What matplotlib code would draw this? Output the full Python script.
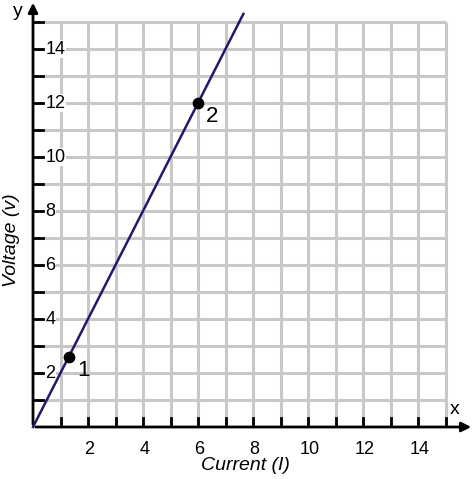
import matplotlib
matplotlib.use("Agg")
import matplotlib.pyplot as plt
import numpy as np

plt.rcParams["font.family"] = ["Liberation Sans", "DejaVu Sans"]

# data
points_x = [1.3, 6]
points_y = [2.6, 12]
point_labels = ["1", "2"]
line_x = [0, 7.65]
line_y = [0, 15.3]
tick_vals = [2, 4, 6, 8, 10, 12, 14]

W, H = 474, 479
fig = plt.figure(figsize=(W / 100, H / 100), dpi=100)
ax = fig.add_axes([33 / W, 52 / H, (W - 33) / W, (H - 52) / H])
ax.set_xlim(0, 441 / 27.5)
ax.set_ylim(0, 427 / 27.0)
ax.axis("off")

grid = np.arange(1, 16)
ax.vlines(grid, 0, 15, color="#c8c8c8", lw=2.2, zorder=1)
ax.hlines(grid, 0, 15, color="#c8c8c8", lw=2.2, zorder=1)

# axes with arrows
ax.annotate("", xy=(441 / 27.5, 0), xytext=(0, 0),
            arrowprops=dict(arrowstyle="-|>", color="black", lw=2, mutation_scale=14), zorder=3)
ax.annotate("", xy=(0, 427 / 27.0), xytext=(0, 0),
            arrowprops=dict(arrowstyle="-|>", color="black", lw=2, mutation_scale=14), zorder=3)

# ticks
for v in grid:
    ax.plot([v, v], [0, 0.35], color="black", lw=2, zorder=3)
    ax.plot([0, 0.35], [v, v], color="black", lw=2, zorder=3)
for v in tick_vals:
    ax.text(v + 0.05, -0.5, str(v), ha="center", va="top", fontsize=13,
            bbox=dict(facecolor="white", edgecolor="none", pad=0.5), zorder=2)
    ax.text(0.45, v, str(v), ha="left", va="center", fontsize=13,
            bbox=dict(facecolor="white", edgecolor="none", pad=0.5), zorder=2)

ax.plot(line_x, line_y, color="#1f1a6e", lw=1.8, zorder=4, clip_on=False)
ax.scatter(points_x, points_y, s=55, color="black", zorder=5)
for x, y, t in zip(points_x, points_y, point_labels):
    ax.text(x + 0.3, y - 0.1, t, ha="left", va="top", fontsize=16)

ax.text(15.35, 0.35, "x", fontsize=14, ha="center", va="bottom", clip_on=False)
fig.text(18 / W, 1 - 12 / H, "y", fontsize=14, ha="center", va="center")
fig.text(245 / W, 1 - 465 / H, "Current (I)", fontsize=14, style="italic", ha="center", va="center")
fig.text(12 / W, 1 - 240 / H, "Voltage (v)", fontsize=14, style="italic", ha="center", va="center", rotation=90)

fig.savefig("out.png", dpi=100)
